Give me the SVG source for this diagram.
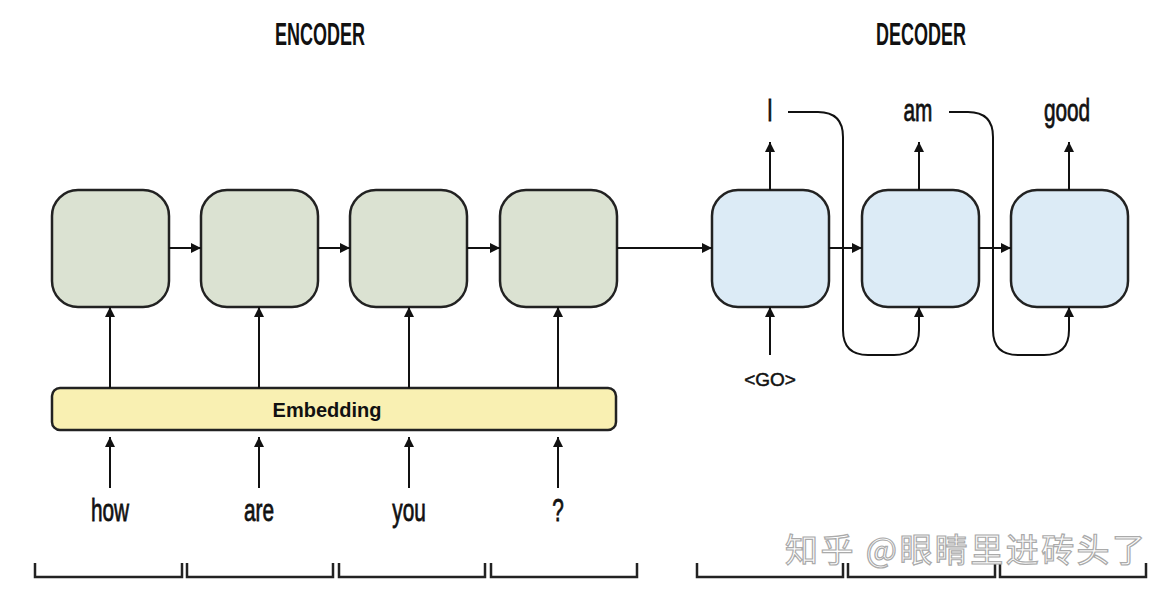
<svg xmlns="http://www.w3.org/2000/svg" width="1170" height="600" viewBox="0 0 1170 600">
<style>
.enc{fill:#dbe2d2;stroke:#222;stroke-width:2.5}
.dec{fill:#dcebf6;stroke:#222;stroke-width:2.5}
.emb{fill:#f9f0b2;stroke:#222;stroke-width:2.5}
.ln{fill:none;stroke:#111;stroke-width:2}
.br{fill:none;stroke:#222;stroke-width:2.5}
.t{font-family:"Liberation Sans",Arial,sans-serif;fill:#111;text-anchor:middle}
.title{font-size:31px;font-weight:bold}
.word{font-size:32px;stroke:#111;stroke-width:0.8}
.small{font-family:"Liberation Sans",Arial,sans-serif;font-size:20px;font-weight:bold;fill:#111;text-anchor:middle}
.go{font-family:"Liberation Sans",Arial,sans-serif;font-size:19px;fill:#111;stroke:#111;stroke-width:0.5;text-anchor:middle}
</style>
<defs>
<marker id="ah" viewBox="0 0 10 10" refX="10" refY="5" markerWidth="5" markerHeight="5" orient="auto" markerUnits="strokeWidth">
<path d="M0,0 L10,5 L0,10 z" fill="#111"/>
</marker>
</defs>
<rect width="1170" height="600" fill="#fff"/>
<text class="t title" transform="translate(320,45) scale(0.58,1)">ENCODER</text>
<text class="t title" transform="translate(921,45) scale(0.58,1)">DECODER</text>
<g id="enc1"><rect class="enc" x="52" y="190" width="117" height="117" rx="26"/></g>
<g id="enc2"><rect class="enc" x="201" y="190" width="117" height="117" rx="26"/></g>
<g id="enc3"><rect class="enc" x="350" y="190" width="117" height="117" rx="26"/></g>
<g id="enc4"><rect class="enc" x="500" y="190" width="117" height="117" rx="26"/></g>
<g id="dec1"><rect class="dec" x="712" y="190" width="117" height="117" rx="26"/></g>
<g id="dec2"><rect class="dec" x="862" y="190" width="117" height="117" rx="26"/></g>
<g id="dec3"><rect class="dec" x="1011" y="190" width="117" height="117" rx="26"/></g>
<g id="embedding"><rect class="emb" x="52" y="388" width="564" height="42" rx="8"/>
<text class="small" x="327" y="417">Embedding</text></g>
<g id="inputs">
<text class="t word" transform="translate(110,521) scale(0.65,1)">how</text>
<text class="t word" transform="translate(259,521) scale(0.65,1)">are</text>
<text class="t word" transform="translate(409,521) scale(0.65,1)">you</text>
<text class="t word" transform="translate(558,521) scale(0.65,1)">?</text>
</g>
<g id="outputs">
<text class="t word" transform="translate(770,121) scale(0.65,1)">I</text>
<text class="t word" transform="translate(918,121) scale(0.65,1)">am</text>
<text class="t word" transform="translate(1067,121) scale(0.65,1)">good</text>
<text class="go" x="770" y="386">&lt;GO&gt;</text>
</g>
<g id="connectors">
<line class="ln" x1="169" y1="248" x2="201" y2="248" marker-end="url(#ah)"/>
<line class="ln" x1="318" y1="248" x2="350" y2="248" marker-end="url(#ah)"/>
<line class="ln" x1="467" y1="248" x2="500" y2="248" marker-end="url(#ah)"/>
<line class="ln" x1="617" y1="248" x2="712" y2="248" marker-end="url(#ah)"/>
<line class="ln" x1="829" y1="248" x2="862" y2="248" marker-end="url(#ah)"/>
<line class="ln" x1="979" y1="248" x2="1011" y2="248" marker-end="url(#ah)"/>
<line class="ln" x1="110" y1="388" x2="110" y2="307" marker-end="url(#ah)"/>
<line class="ln" x1="259" y1="388" x2="259" y2="307" marker-end="url(#ah)"/>
<line class="ln" x1="409" y1="388" x2="409" y2="307" marker-end="url(#ah)"/>
<line class="ln" x1="558" y1="388" x2="558" y2="307" marker-end="url(#ah)"/>
<line class="ln" x1="110" y1="488" x2="110" y2="437" marker-end="url(#ah)"/>
<line class="ln" x1="259" y1="488" x2="259" y2="437" marker-end="url(#ah)"/>
<line class="ln" x1="409" y1="488" x2="409" y2="437" marker-end="url(#ah)"/>
<line class="ln" x1="558" y1="488" x2="558" y2="437" marker-end="url(#ah)"/>
<line class="ln" x1="770" y1="190" x2="770" y2="142" marker-end="url(#ah)"/>
<line class="ln" x1="919" y1="190" x2="919" y2="142" marker-end="url(#ah)"/>
<line class="ln" x1="1069" y1="190" x2="1069" y2="142" marker-end="url(#ah)"/>
<line class="ln" x1="770" y1="355" x2="770" y2="307" marker-end="url(#ah)"/>
<path class="ln" d="M788,112 H818 Q843,112 843,137 V330 Q843,355 868,355 H894 Q919,355 919,330 V307" marker-end="url(#ah)"/>
<path class="ln" d="M949,112 H968 Q993,112 993,137 V330 Q993,355 1018,355 H1044 Q1069,355 1069,330 V307" marker-end="url(#ah)"/>
</g>
<g id="brackets">
<path class="br" d="M35,563 V577 H182 V563"/>
<path class="br" d="M187,563 V577 H333 V563"/>
<path class="br" d="M339,563 V577 H485 V563"/>
<path class="br" d="M491,563 V577 H637 V563"/>
<path class="br" d="M697,563 V577 H843 V563"/>
<path class="br" d="M848,563 V577 H995 V563"/>
<path class="br" d="M1000,563 V577 H1146 V563"/>
</g>
<text x="785" y="562" style="font-family:'Noto Sans CJK SC',sans-serif;font-size:33px;fill:#fff;stroke:#aaa;stroke-width:1.2" textLength="360">知乎 @眼睛里进砖头了</text>
</svg>
